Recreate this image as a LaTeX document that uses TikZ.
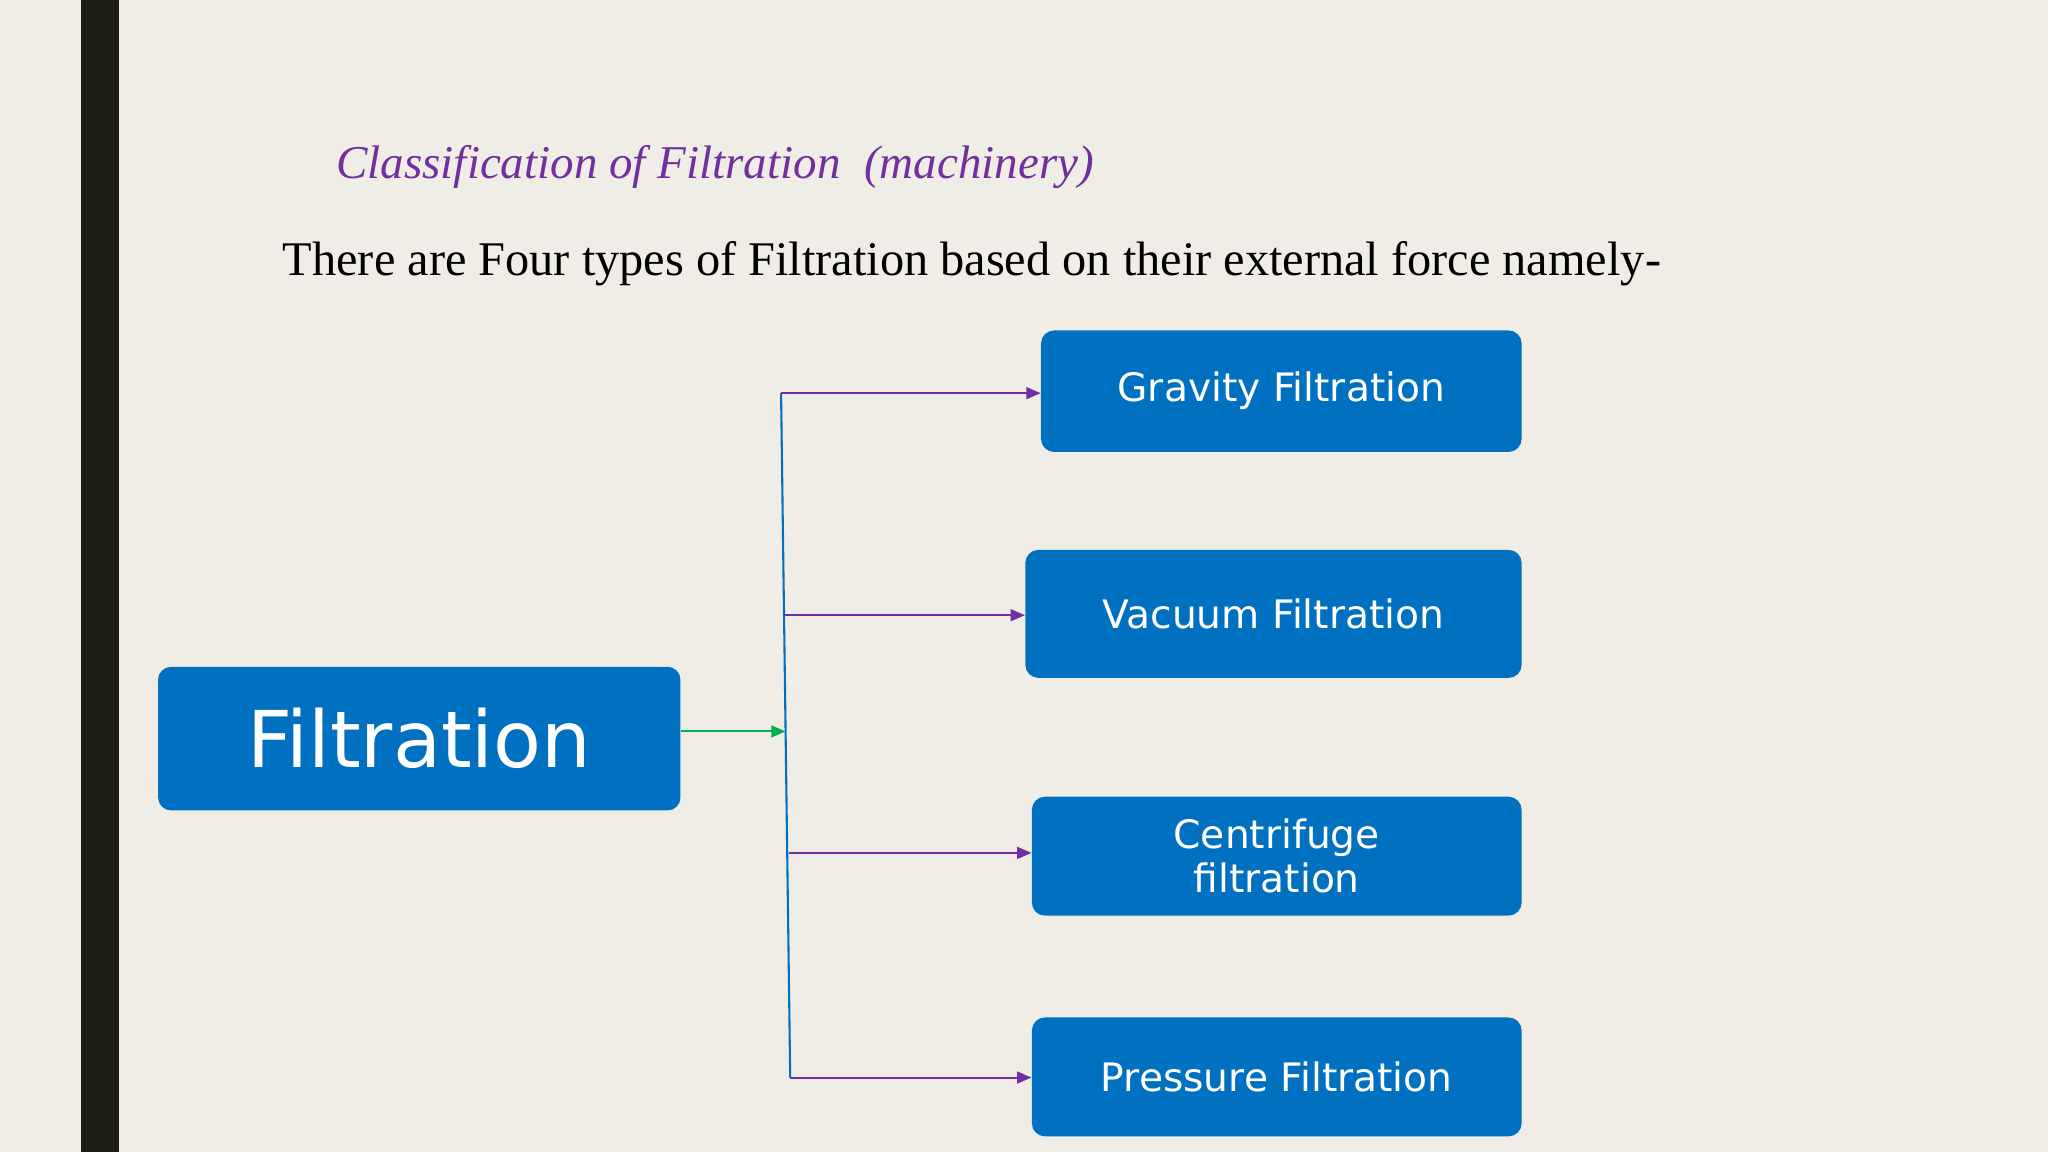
\documentclass[tikz,border=0pt]{standalone}
\usepackage{fontspec}
\setmainfont{Liberation Serif}
\newfontfamily\boxfont{DejaVu Sans}
\usetikzlibrary{arrows.meta}
\definecolor{bg}{HTML}{EFEDE5}
\definecolor{bar}{HTML}{1E1E14}
\definecolor{boxblue}{HTML}{0070C0}
\definecolor{purp}{HTML}{7030A0}
\definecolor{grn}{HTML}{00B050}
\begin{document}
\begin{tikzpicture}[x=1pt,y=-1pt,
  bx/.style={fill=boxblue,rounded corners=10pt,text=white,font=\boxfont\fontsize{30}{34}\selectfont,align=center,inner sep=0pt},
  parr/.style={draw=purp,line width=1.6pt,-{Triangle[length=11pt,width=9pt]}},
]
\fill[bg] (0,0) rectangle (1568,882);
\useasboundingbox (0,0) rectangle (1568,882);
\fill[bar] (62,0) rectangle (91,882);
\node[anchor=west,text=purp,font=\itshape\fontsize{36}{40}\selectfont] (title) at (254,128) {Classification of Filtration\ \ (machinery)};
\node[anchor=west,font=\fontsize{37}{42}\selectfont] (sub) at (213,202) {There are Four types of Filtration based on their external force namely-};
\node[bx,minimum width=400pt,minimum height=110pt,font=\boxfont\fontsize{60}{66}\selectfont] (f) at (321,565.5) {Filtration};
\node[bx,minimum width=368pt,minimum height=93pt] (g) at (981,299.5) {Gravity Filtration};
\node[bx,minimum width=380pt,minimum height=98pt] (v) at (975,470) {Vacuum Filtration};
\node[bx,minimum width=375pt,minimum height=91pt] (c) at (977.5,655.5) {Centrifuge\\filtration};
\node[bx,minimum width=375pt,minimum height=91pt] (p) at (977.5,824.5) {Pressure Filtration};
\coordinate (t1) at (598,301);
\coordinate (t2) at (605,825);
\coordinate (tv) at (600.5,471);
\coordinate (tf) at (601.5,560);
\coordinate (tc) at (604,653);
\draw[draw=boxblue,line width=1.6pt] (t1) -- (t2);
\draw[draw=grn,line width=1.6pt,-{Triangle[length=11pt,width=9pt]}] (f.east |- tf) -- (tf);
\draw[parr] (t1) -- (g.west |- t1);
\draw[parr] (tv) -- (v.west |- tv);
\draw[parr] (tc) -- (c.west |- tc);
\draw[parr] (t2) -- (p.west |- t2);
\end{tikzpicture}
\end{document}
